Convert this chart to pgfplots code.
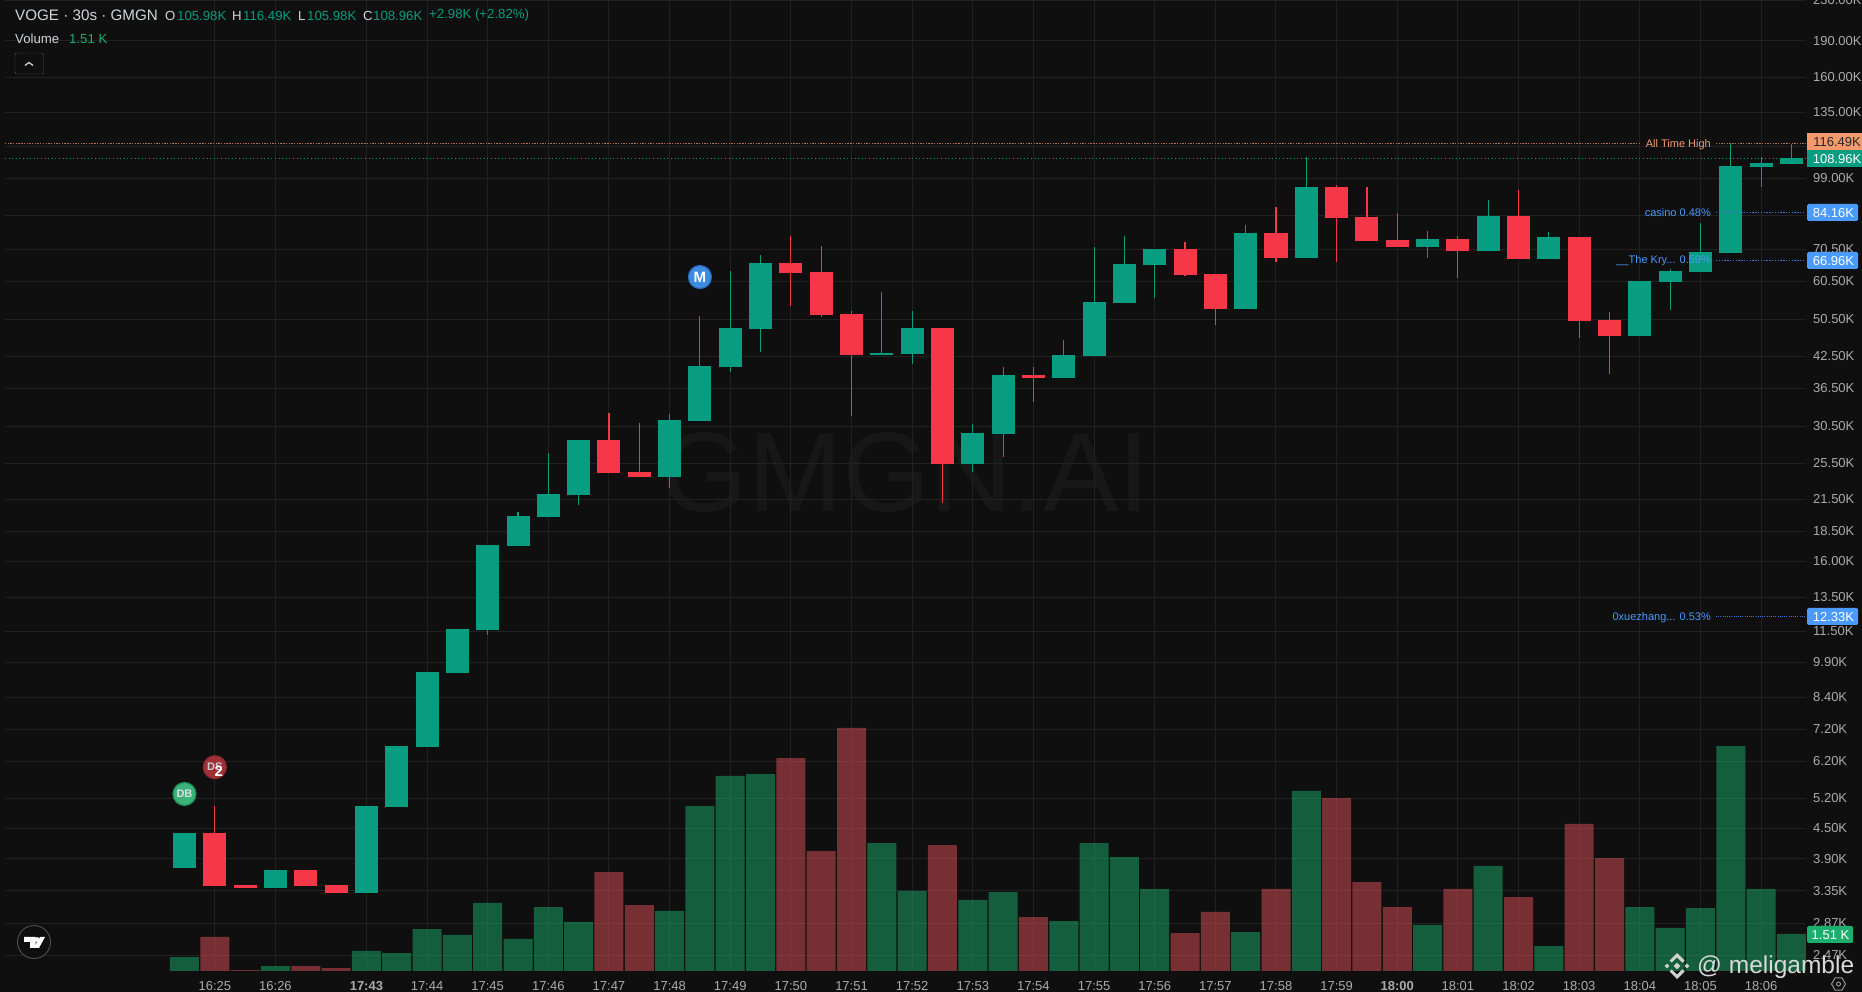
\documentclass[border=0pt]{standalone}
\usepackage{fontspec}
\setmainfont{Liberation Sans}
\usepackage{pgfplots}
\usepackage{pgfplotstable}
\pgfplotsset{compat=1.18}
\usetikzlibrary{shapes.geometric}
\newcommand\fs[1]{\fontsize{#1}{#1}\selectfont}
\definecolor{bg}{HTML}{0F0F0F}
\definecolor{gridc}{HTML}{212121}
\definecolor{up}{HTML}{089C80}
\definecolor{down}{HTML}{F53748}
\definecolor{volup}{HTML}{1CAE6C}
\definecolor{voldown}{HTML}{DE5058}
\definecolor{axt}{HTML}{ABABAB}
\definecolor{ath}{HTML}{F4996B}
\definecolor{pillblue}{HTML}{4A9AFF}
\definecolor{lineblue}{HTML}{3A78D0}
\definecolor{legend}{HTML}{D1D4DC}
\definecolor{HTMLgreen}{HTML}{3BB27A}
\definecolor{HTMLgreenD}{HTML}{1E8A55}
\definecolor{HTMLred}{HTML}{A03035}
\definecolor{HTMLredD}{HTML}{8A2A2E}
\definecolor{HTMLblue}{HTML}{3F8BE0}
\definecolor{HTMLblueD}{HTML}{2A6CC0}
% price candles, values in thousands
\pgfplotstableread{
x open high low close
0 3.74 4.42 3.74 4.42
3 3.39 3.70 3.39 3.70
6 3.32 5.02 3.32 5.02
7 5.00 6.67 5.00 6.67
8 6.64 9.48 6.64 9.48
9 9.44 11.63 9.44 11.63
10 11.58 17.32 11.31 17.32
11 17.24 20.27 17.24 19.89
12 19.80 26.83 19.80 22.08
13 21.97 28.54 20.96 28.54
16 23.93 32.29 22.72 31.38
17 31.23 51.44 31.23 40.56
18 40.37 63.71 39.43 48.58
19 48.35 68.74 43.36 66.17
23 42.74 57.66 42.74 43.15
24 42.95 52.68 40.96 48.58
26 25.46 30.79 24.52 29.51
27 29.37 40.37 26.33 38.86
29 38.31 45.90 38.31 42.74
30 42.53 71.42 42.53 54.98
31 54.71 75.23 54.71 65.85
32 65.54 70.72 56.03 70.72
35 53.18 79.26 53.18 76.32
37 67.70 109.50 67.70 94.95
41 71.42 77.04 67.70 74.16
43 70.06 89.26 70.06 82.73
45 67.44 76.67 67.44 74.86
48 46.78 60.75 46.78 60.75
49 60.46 64.31 52.93 63.71
50 63.41 80.02 63.41 69.72
51 69.39 116.20 69.39 104.92
52 104.40 109.50 94.90 106.40
53 105.98 116.49 105.98 108.96
}\upT
\pgfplotstableread{
x open high low close
1 4.42 5.02 3.43 3.43
2 3.45 3.45 3.39 3.39
4 3.70 3.70 3.43 3.43
5 3.45 3.45 3.32 3.32
14 28.54 32.44 24.40 24.40
15 24.52 30.94 23.93 23.93
20 66.17 75.23 53.94 63.11
21 63.41 71.76 51.21 51.69
22 51.93 52.68 31.99 42.74
25 48.58 48.58 21.15 25.46
28 38.86 40.37 34.18 38.31
33 70.72 73.11 62.20 62.50
34 62.81 62.81 49.27 53.18
36 76.32 86.33 66.49 67.70
38 94.95 95.86 66.49 81.95
39 82.34 94.95 73.46 73.46
40 73.81 83.91 71.42 71.42
42 74.16 75.23 61.62 70.06
44 82.73 93.61 67.44 67.44
46 74.86 74.86 46.34 50.23
47 50.47 52.43 39.05 46.78
}\downT
% volume, thousands
\pgfplotstableread{
x v
0 0.57
3 0.20
6 0.82
7 0.73
8 1.71
9 1.47
10 2.78
11 1.31
12 2.61
13 2.00
16 2.45
17 6.73
18 7.96
19 8.04
23 5.22
24 3.27
26 2.90
27 3.22
29 2.04
30 5.22
31 4.65
32 3.35
35 1.59
37 7.35
41 1.88
43 4.29
45 1.02
48 2.61
49 1.76
50 2.57
51 9.18
52 3.35
53 1.51
}\volUp
\pgfplotstableread{
x v
1 1.39
2 0.04
4 0.20
5 0.12
14 4.04
15 2.69
20 8.69
21 4.90
22 9.92
25 5.14
28 2.20
33 1.55
34 2.41
36 3.35
38 7.06
39 3.63
40 2.61
42 3.35
44 3.02
46 6.00
47 4.61
}\volDown
\pgfplotsset{
  pane/.style={at={(5pt,21pt)},anchor=south west,width=1801pt,height=971pt,scale only axis,
    xmin=-5.92,xmax=53.48,clip=true},
  wick/.style={draw=none,mark=none,forget plot,error bars/.cd,y dir=plus,y explicit,error mark=none,
    error bar style={line width=1.1pt,color=#1}},
  body/.style={draw=none,mark=none,forget plot,error bars/.cd,y dir=plus,y explicit,error mark=none,
    error bar style={line width=23pt,color=#1}},
}
\begin{document}
\begin{tikzpicture}[x=1pt,y=1pt]
\path[use as bounding box,clip] (0,0) rectangle (1862,992);
\fill[bg] (0,0) rectangle (1862,992);
% watermark
\node[text=white!3.5!bg,font=\fs{113},anchor=center,inner sep=0] at (905,519) {GMGN.AI};
\begin{axis}[pane,ymode=log,ymin=2.29,ymax=230.85,
  axis line style={draw=none},tick style={draw=none},
  grid=major,grid style={color=gridc,line width=1pt},
  ytick={230,190,160,135,115,99,83,70.5,60.5,50.5,42.5,36.5,30.5,25.5,21.5,18.5,16,13.5,11.5,9.9,8.4,7.2,6.2,5.2,4.5,3.9,3.35,2.87,2.47},
  yticklabels={230.00K,190.00K,160.00K,135.00K,,99.00K,,70.50K,60.50K,50.50K,42.50K,36.50K,30.50K,25.50K,21.50K,18.50K,16.00K,13.50K,11.50K,9.90K,8.40K,7.20K,6.20K,5.20K,4.50K,3.90K,3.35K,2.87K,2.47K},
  yticklabel pos=right,
  yticklabel style={anchor=west,inner sep=0,xshift=7pt,yshift=-1.5pt,text=axt,font=\fs{13}},
  xtick={1,3,6,8,10,12,14,16,18,20,22,24,26,28,30,32,34,36,38,40,42,44,46,48,50,52},
  xticklabels={16:25,16:26,\textbf{17:43},17:44,17:45,17:46,17:47,17:48,17:49,17:50,17:51,17:52,17:53,17:54,17:55,17:56,17:57,17:58,17:59,\textbf{18:00},18:01,18:02,18:03,18:04,18:05,18:06},
  xticklabel style={anchor=center,inner sep=0,text=axt,font=\fs{13},yshift=-16.5pt},
  typeset ticklabels with strut=false,
]
% price lines
\addplot[forget plot,color=ath!70!bg,line width=1pt,dash pattern=on 1.4pt off 1.3pt] coordinates {(-5.92,116.49) (47.97,116.49)};
\addplot[forget plot,color=ath!70!bg,line width=1pt,dash pattern=on 1.4pt off 1.3pt] coordinates {(50.51,116.49) (53.48,116.49)};
\addplot[forget plot,color=up,line width=1pt,dash pattern=on 1pt off 2.6pt] coordinates {(-5.92,108.96) (53.48,108.96)};
% candles
\addplot[wick=up] table[x=x,y=low,y error plus expr=\thisrow{high}-\thisrow{low}] {\upT};
\addplot[wick=down] table[x=x,y=low,y error plus expr=\thisrow{high}-\thisrow{low}] {\downT};
\addplot[body=up] table[x=x,y=open,y error plus expr=\thisrow{close}-\thisrow{open}] {\upT};
\addplot[body=down] table[x=x,y=close,y error plus expr=\thisrow{open}-\thisrow{close}] {\downT};
% holder lines
\addplot[forget plot,color=lineblue,line width=1pt,dash pattern=on 1.4pt off 1.4pt] coordinates {(50.51,84.16) (53.48,84.16)};
\addplot[forget plot,color=lineblue,line width=1pt,dash pattern=on 1.4pt off 1.4pt] coordinates {(50.51,66.96) (53.48,66.96)};
\addplot[forget plot,color=lineblue,line width=1pt,dash pattern=on 1.1pt off 1.1pt] coordinates {(50.51,12.33) (53.48,12.33)};
% trade markers
\addplot[only marks,mark=*,mark size=11.5pt,mark options={fill=HTMLgreen,draw=HTMLgreenD,line width=1.2pt},
  nodes near coords={DB},nodes near coords style={anchor=center,inner sep=0,text=white!88!black,font=\fs{11}\bfseries}] coordinates {(0,5.31)};
\addplot[only marks,mark=*,mark size=11.5pt,mark options={fill=HTMLred,draw=HTMLredD,line width=1.2pt},
  nodes near coords={DS},nodes near coords style={anchor=center,inner sep=0,text=white!80!black,font=\fs{11}\bfseries}] coordinates {(1,6.03)};
\addplot[only marks,mark=none,
  nodes near coords={2},nodes near coords style={anchor=center,inner sep=0,xshift=4pt,yshift=-4pt,text=white,font=\fs{15}\bfseries}] coordinates {(1,6.03)};
\addplot[only marks,mark=*,mark size=11.5pt,mark options={fill=HTMLblue,draw=HTMLblueD,line width=1.2pt},
  nodes near coords={M},nodes near coords style={anchor=center,inner sep=0,text=white,font=\fs{15}\bfseries}] coordinates {(17,61.9)};
\end{axis}
\begin{axis}[pane,ymin=0,ymax=39.63,hide axis,ybar,bar width=29pt,bar shift=0pt]
\addplot[draw=none,fill=volup,fill opacity=0.5] table[x=x,y=v] {\volUp};
\addplot[draw=none,fill=voldown,fill opacity=0.5] table[x=x,y=v] {\volDown};
\end{axis}
% legend
\node[anchor=west,inner sep=0,text=legend,font=\fs{15.2}] at (15,976.5) {VOGE · 30s · GMGN};
\begin{scope}[every node/.style={anchor=west,inner sep=0,font=\fs{13.2}}]
\node[text=legend] at (165,976.5) {O};
\node[text=up] at (177,976.5) {105.98K};
\node[text=legend] at (232,976.5) {H};
\node[text=up] at (243,976.5) {116.49K};
\node[text=legend] at (298,976.5) {L};
\node[text=up] at (307,976.5) {105.98K};
\node[text=legend] at (363,976.5) {C};
\node[text=up] at (373,976.5) {108.96K};
\node[text=up] at (429,976.5) {+2.98K (+2.82\%)};
\node[text=legend] at (15,953) {Volume};
\node[text=volup] at (69,953) {1.51 K};
\end{scope}
\draw[white!35!bg,dashed,dash pattern=on 3pt off 1pt,rounded corners=2pt] (15,939) rectangle (43.5,918);
\draw[white!85!black,line width=1.2pt] (25,926.5) -- (29,929.5) -- (33,926.5);
% right-side labels
\begin{scope}[every node/.style={anchor=east,inner sep=0,font=\fs{11}}]
\node[text=ath] at (1711,847.5) {All Time High};
\node[text=pillblue] at (1711,779) {casino 0.48\%};
\node[text=pillblue] at (1711,731) {\_\_The Kry... 0.59\%};
\node[text=pillblue] at (1711,374.5) {0xuezhang... 0.53\%};
\end{scope}
% price pills
\fill[ath] (1807,859) rectangle (1862,842);
\fill[up] (1807,842) rectangle (1862,825);
\fill[pillblue,rounded corners=1.5pt] (1807,788) rectangle (1858,771);
\fill[pillblue,rounded corners=1.5pt] (1807,740) rectangle (1858,723);
\fill[pillblue,rounded corners=1.5pt] (1807,384) rectangle (1858,367);
\fill[volup,rounded corners=1.5pt] (1807,66) rectangle (1853,49);
\begin{scope}[every node/.style={anchor=center,inner sep=0,font=\fs{13}}]
\node[text=black!85] at (1837,849.5) {116.49K};
\node[text=white] at (1837,832.5) {108.96K};
\node[text=white] at (1833.5,778.5) {84.16K};
\node[text=white] at (1833.5,730.5) {66.96K};
\node[text=white] at (1833.5,374.5) {12.33K};
\node[text=white] at (1830.5,56.5) {1.51 K};
\end{scope}
% logo
\draw[white!25!bg,line width=1pt,fill=bg] (34,50) circle (16.5);
\fill[white] (24,55) -- (35.5,55) -- (35.5,44) -- (30,44) -- (30,50) -- (24,50) -- cycle;
\fill[white] (37,52.5) circle (2.4);
\fill[white] (40,55) -- (45,55) -- (39,44) -- (33.5,44) -- cycle;
\node[draw=white!55!bg,line width=1pt,regular polygon,regular polygon sides=6,minimum size=14pt,inner sep=0] at (1838.5,8) {};
\draw[white!55!bg,line width=1pt] (1838.5,8) circle (2);
% watermark of the poster
\begin{scope}[shift={(1677,26)},fill=white!82!black]
\fill (0,13) -- (7.5,5.5) -- (5.3,3.3) -- (0,8.6) -- (-5.3,3.3) -- (-7.5,5.5) -- cycle;
\fill (0,-13) -- (7.5,-5.5) -- (5.3,-3.3) -- (0,-8.6) -- (-5.3,-3.3) -- (-7.5,-5.5) -- cycle;
\fill (0,3.3) -- (3.3,0) -- (0,-3.3) -- (-3.3,0) -- cycle;
\fill (-10,2.3) -- (-7.7,0) -- (-10,-2.3) -- (-12.3,0) -- cycle;
\fill (10,2.3) -- (12.3,0) -- (10,-2.3) -- (7.7,0) -- cycle;
\end{scope}
\node[anchor=west,inner sep=0,text=white!85!black,font=\fs{24.5}] at (1697,25) {@ meligamble};
\end{tikzpicture}
\end{document}
